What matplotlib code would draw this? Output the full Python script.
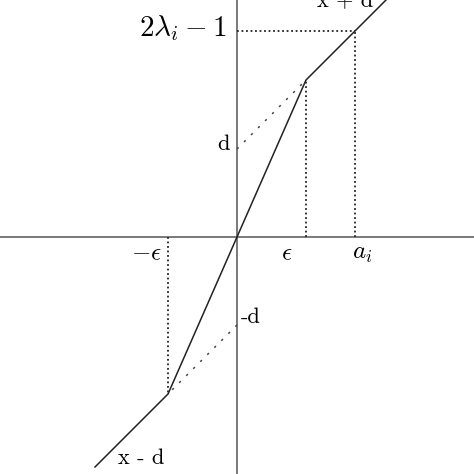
import matplotlib
matplotlib.use("Agg")
import matplotlib.pyplot as plt

plt.rcParams["mathtext.fontset"] = "cm"

# values in pixel-like units, origin at centre
eps = 69
d = 88
a_i = 118
lim = 237

# piecewise function: x - d, steep middle piece, x + d
xs = [-lim + 95, -eps, eps, lim]
ys = [xs[0] - d, -eps - d, eps + d, lim + d]
fa = a_i + d  # 2*lambda_i - 1

fig = plt.figure(figsize=(4.74, 4.74), dpi=100)
ax = fig.add_axes([0, 0, 1, 1])
ax.set_xlim(-lim, lim)
ax.set_ylim(-lim, lim)
ax.axis("off")

ax.axhline(0, color="#555555", lw=1.1)
ax.axvline(0, color="#555555", lw=1.1)

ax.plot(xs, ys, color="#222222", lw=1.1)

dot = dict(color="#222222", lw=1.3, linestyle=(0, (1, 1.5)))
ax.plot([eps, eps], [0, eps + d], **dot)
ax.plot([-eps, -eps], [0, -eps - d], **dot)
ax.plot([a_i, a_i], [0, fa], **dot)
ax.plot([0, a_i], [fa, fa], **dot)

sparse = dict(color="#444444", lw=1.1, linestyle=(0, (1.5, 5)))
ax.plot([0, eps], [d, eps + d], **sparse)
ax.plot([0, -eps], [-d, -eps - d], **sparse)

rm = dict(family="cmr10", fontsize=16)
ax.text(-10, fa + 3, r"$2\lambda_i - 1$", fontsize=21, ha="right", va="center")
ax.text(-7, d + 5, "d", ha="right", va="center", **rm)
ax.text(4, -d + 8, "-d", ha="left", va="center", **rm)
ax.text(eps - 19, -16, r"$\epsilon$", fontsize=18, ha="center", va="center")
ax.text(-eps - 22, -16, r"$-\epsilon$", fontsize=18, ha="center", va="center")
ax.text(a_i + 7, -16, r"$a_i$", fontsize=18, ha="center", va="center")
ax.text(108, lim - 1, "x + d", ha="center", va="center", **rm)
ax.text(-96, -lim + 16, "x - d", ha="center", va="center", **rm)

fig.savefig("out.png", dpi=100)
